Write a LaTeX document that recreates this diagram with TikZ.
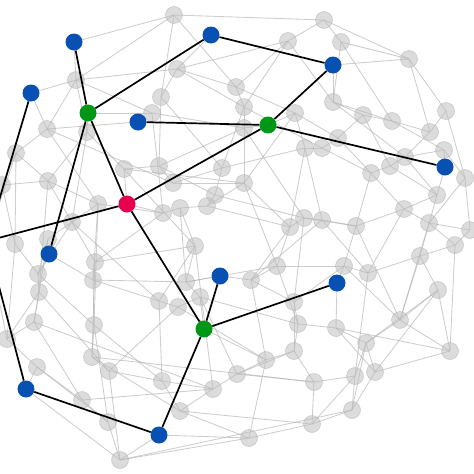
\documentclass[tikz,border=0pt]{standalone}
\usepackage{tikz}
\usetikzlibrary{backgrounds}

\definecolor{hubred}{RGB}{232,0,78}
\definecolor{midgreen}{RGB}{0,150,22}
\definecolor{leafblue}{RGB}{8,80,178}

\begin{document}
\begin{tikzpicture}[x=1pt,y=-1pt]
\tikzset{gn/.style={circle,fill=gray!50,draw=gray!60,line width=0.6pt,fill opacity=0.55,draw opacity=0.6,minimum size=17pt,inner sep=0pt}}
\tikzset{cn/.style={circle,minimum size=17pt,inner sep=0pt}}
\tikzset{ge/.style={gray!60,line width=0.85pt,opacity=0.65}}
\tikzset{te/.style={black,line width=1.7pt}}
\useasboundingbox (0,0) rectangle (474,474);
% grey network
\node[gn] (g1) at (174,15) {};
\node[gn] (g2) at (177,69) {};
\node[gn] (g3) at (76,80) {};
\node[gn] (g4) at (161,97) {};
\node[gn] (g5) at (152,113) {};
\node[gn] (g6) at (236,87) {};
\node[gn] (g7) at (47,129) {};
\node[gn] (g8) at (87,132) {};
\node[gn] (g9) at (16,153) {};
\node[gn] (g10) at (48,181) {};
\node[gn] (g11) at (124,169) {};
\node[gn] (g12) at (159,166) {};
\node[gn] (g13) at (173,183) {};
\node[gn] (g14) at (222,168) {};
\node[gn] (g15) at (215,195) {};
\node[gn] (g16) at (207,206) {};
\node[gn] (g17) at (180,208) {};
\node[gn] (g18) at (163,213) {};
\node[gn] (g19) at (98,204) {};
\node[gn] (g20) at (72,222) {};
\node[gn] (g21) at (2,185) {};
\node[gn] (g22) at (324,20) {};
\node[gn] (g23) at (288,41) {};
\node[gn] (g24) at (341,42) {};
\node[gn] (g25) at (409,59) {};
\node[gn] (g26) at (244,107) {};
\node[gn] (g27) at (333,102) {};
\node[gn] (g28) at (295,113) {};
\node[gn] (g29) at (363,115) {};
\node[gn] (g30) at (392,121) {};
\node[gn] (g31) at (446,111) {};
\node[gn] (g32) at (430,132) {};
\node[gn] (g33) at (444,150) {};
\node[gn] (g34) at (305,148) {};
\node[gn] (g35) at (322,148) {};
\node[gn] (g36) at (338,138) {};
\node[gn] (g37) at (244,128) {};
\node[gn] (g38) at (390,166) {};
\node[gn] (g39) at (405,157) {};
\node[gn] (g40) at (371,173) {};
\node[gn] (g41) at (244,183) {};
\node[gn] (g42) at (465,178) {};
\node[gn] (g43) at (437,195) {};
\node[gn] (g44) at (404,209) {};
\node[gn] (g45) at (304,218) {};
\node[gn] (g46) at (322,220) {};
\node[gn] (g47) at (290,227) {};
\node[gn] (g48) at (356,226) {};
\node[gn] (g49) at (429,223) {};
\node[gn] (g50) at (470,230) {};
\node[gn] (g51) at (15,244) {};
\node[gn] (g52) at (48,239) {};
\node[gn] (g53) at (195,246) {};
\node[gn] (g54) at (95,262) {};
\node[gn] (g55) at (38,274) {};
\node[gn] (g56) at (93,280) {};
\node[gn] (g57) at (39,292) {};
\node[gn] (g58) at (159,301) {};
\node[gn] (g59) at (178,307) {};
\node[gn] (g60) at (186,282) {};
\node[gn] (g61) at (200,297) {};
\node[gn] (g62) at (34,322) {};
\node[gn] (g63) at (94,325) {};
\node[gn] (g64) at (7,339) {};
\node[gn] (g65) at (92,357) {};
\node[gn] (g66) at (37,367) {};
\node[gn] (g67) at (109,371) {};
\node[gn] (g68) at (162,381) {};
\node[gn] (g69) at (213,389) {};
\node[gn] (g70) at (237,374) {};
\node[gn] (g71) at (82,400) {};
\node[gn] (g72) at (108,422) {};
\node[gn] (g73) at (180,411) {};
\node[gn] (g74) at (120,460) {};
\node[gn] (g75) at (455,245) {};
\node[gn] (g76) at (420,256) {};
\node[gn] (g77) at (277,266) {};
\node[gn] (g78) at (344,266) {};
\node[gn] (g79) at (368,273) {};
\node[gn] (g80) at (251,280) {};
\node[gn] (g81) at (438,290) {};
\node[gn] (g82) at (294,302) {};
\node[gn] (g83) at (298,324) {};
\node[gn] (g84) at (336,328) {};
\node[gn] (g85) at (400,320) {};
\node[gn] (g86) at (366,343) {};
\node[gn] (g87) at (294,351) {};
\node[gn] (g88) at (450,351) {};
\node[gn] (g89) at (266,360) {};
\node[gn] (g90) at (314,382) {};
\node[gn] (g91) at (355,376) {};
\node[gn] (g92) at (375,372) {};
\node[gn] (g93) at (352,410) {};
\node[gn] (g94) at (312,424) {};
\node[gn] (g95) at (249,438) {};
% highlighted tree
\node[cn,fill=hubred] (hub) at (127,204) {};
\node[cn,fill=midgreen] (gl) at (88,113) {};
\node[cn,fill=midgreen] (gr) at (268,125) {};
\node[cn,fill=midgreen] (gb) at (204,329) {};
\node[cn,fill=midgreen] (gw) at (-13,241) {};
\node[cn,fill=leafblue] (b1) at (74,42) {};
\node[cn,fill=leafblue] (b2) at (31,93) {};
\node[cn,fill=leafblue] (b3) at (211,35) {};
\node[cn,fill=leafblue] (b4) at (333,65) {};
\node[cn,fill=leafblue] (b5) at (138,122) {};
\node[cn,fill=leafblue] (b6) at (445,167) {};
\node[cn,fill=leafblue] (b7) at (49,254) {};
\node[cn,fill=leafblue] (b8) at (220,276) {};
\node[cn,fill=leafblue] (b9) at (337,283) {};
\node[cn,fill=leafblue] (b10) at (26,389) {};
\node[cn,fill=leafblue] (b11) at (159,435) {};
\draw[te] (gl) -- (b1);
\draw[te] (gl) -- (b3);
\draw[te] (b3) -- (b4);
\draw[te] (b4) -- (gr);
\draw[te] (gl) -- (hub);
\draw[te] (gl) -- (b7);
\draw[te] (b5) -- (gr);
\draw[te] (gr) -- (b6);
\draw[te] (gr) -- (hub);
\draw[te] (hub) -- (gw);
\draw[te] (gw) -- (b2);
\draw[te] (gw) -- (b10);
\draw[te] (hub) -- (gb);
\draw[te] (gb) -- (b8);
\draw[te] (gb) -- (b9);
\draw[te] (gb) -- (b11);
\draw[te] (b11) -- (b10);
\begin{scope}[on background layer]
\foreach \a/\b in {g1/g3,g1/g22,g1/g4,g3/g7,g3/g2,g2/g4,g2/g23,g22/g23,g22/g25,g23/g26,
  g24/g27,g24/g25,g24/g30,g25/g31,g25/g32,g6/g26,g6/g28,g26/g37,g28/g34,g27/g29,
  g29/g30,g30/g33,g31/g32,g32/g39,g33/g42,g34/g35,g35/g36,g36/g29,g37/g41,g38/g39,
  g38/g40,g39/g43,g40/g48,g41/g47,g42/g49,g43/g44,g44/g49,g45/g46,g46/g48,g47/g45,
  g49/g50,g50/g75,g75/g76,g76/g81,g81/g88,g85/g86,g85/g81,g86/g92,g88/g92,g91/g93,
  g93/g94,g94/g95,g90/g91,g87/g89,g89/g95,g82/g83,g83/g84,g84/g86,g77/g80,g78/g79,
  g79/g76,g80/g82,g77/g78,g7/g9,g9/g21,g8/g11,g10/g19,g10/g21,g11/g12,g12/g13,
  g13/g14,g14/g15,g15/g16,g16/g17,g17/g18,g18/g19,g19/g20,g20/g52,g51/g55,g52/g55,
  g54/g56,g55/g57,g56/g63,g57/g62,g62/g64,g63/g65,g65/g67,g66/g71,g64/g66,g67/g68,
  g68/g73,g69/g70,g71/g72,g72/g74,g73/g95,g58/g59,g59/g61,g60/g61,g53/g60,g53/g58,
  g69/g73,g4/g14,g5/g18,g7/g13,g11/g41,g12/g37,g15/g45,g17/g53,g20/g58,g54/g53,
  g56/g60,g57/g67,g62/g69,g63/g68,g65/g90,g66/g72,g71/g69,g74/g95,g74/g93,g70/g87,
  g61/g83,g59/g89,g80/g46,g82/g78,g84/g88,g85/g49,g79/g44,g40/g35,g38/g43,g34/g47,
  g26/g14,g28/g36,g6/g23,g2/g6,g3/g8,g9/g10,g21/g51,g51/g64,g10/g54,g19/g56,
  g55/g63,g47/g77,g45/g48,g48/g78,g75/g88,g81/g92,g76/g85,g86/g91,g93/g92,g90/g94,
  g87/g83,g89/g70,g22/g24,g27/g30,g31/g42,g41/g16,
  g1/g6,g2/g26,g3/g5,g4/g12,g5/g37,g7/g19,g8/g10,g8/g20,g9/g51,g10/g57,
  g11/g53,g12/g15,g13/g41,g14/g34,g16/g47,g17/g60,g18/g54,g19/g63,g20/g55,g23/g27,
  g26/g35,g27/g39,g28/g41,g29/g38,g30/g32,g33/g39,g34/g46,g36/g40,g37/g45,g40/g44,
  g41/g77,g42/g50,g43/g76,g44/g48,g45/g82,g46/g79,g47/g80,g48/g85,g49/g75,g52/g62,
  g53/g69,g54/g65,g56/g58,g57/g64,g58/g68,g59/g67,g60/g77,g61/g70,g62/g71,g63/g72,
  g65/g73,g67/g74,g68/g69,g70/g90,g73/g94,g77/g83,g78/g85,g79/g91,g80/g89,g81/g86,
  g82/g87,g84/g92,g86/g93,g87/g90,g88/g85,g91/g94,
  b1/g1,b1/g3,b2/g7,b2/g3,b3/g2,b4/g25,b4/g27,b5/g7,b6/g43,b6/g33,b7/g55,b7/g56,
  b8/g80,b8/g60,b9/g78,b9/g84,b10/g66,b10/g74,b11/g74,b11/g95,hub/g18,hub/g11,
  gl/g8,gl/g5,gr/g28,gr/g37,gb/g89,gb/g61,gw/g9,gw/g64}
  \draw[ge] (\a.center) -- (\b.center);
\end{scope}
\end{tikzpicture}
\end{document}
